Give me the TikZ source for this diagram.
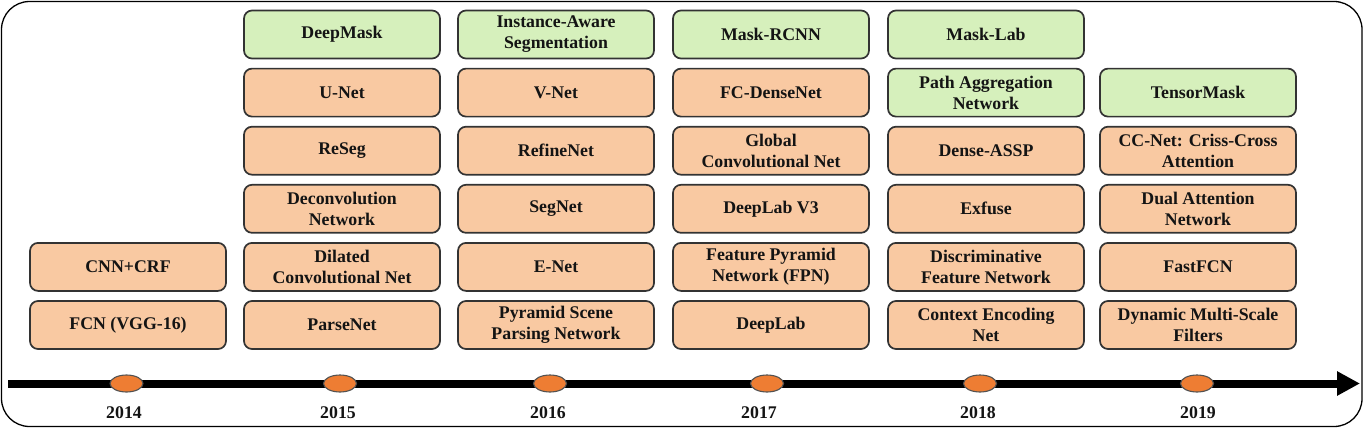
\documentclass[tikz,border=0pt]{standalone}
\usepackage{fontspec}
\setmainfont{Liberation Serif}
\usetikzlibrary{arrows.meta,shapes.geometric}
\definecolor{peach}{HTML}{F9C9A2}
\definecolor{leaf}{HTML}{D6F0BC}
\definecolor{pumpkin}{HTML}{EE7D33}
\definecolor{edge}{HTML}{333333}
\tikzset{
	model/.style={draw=edge, line width=1.7, fill=peach, rounded corners=8, minimum width=196, minimum height=48, inner sep=0, align=center, font=\fontsize{17.8}{21}\selectfont\bfseries, text=black!92},
	inst/.style={model, fill=leaf},
	yearmark/.style={ellipse, draw=edge!85, line width=1.1, fill=pumpkin, minimum width=33, minimum height=17, inner sep=0},
	yearlabel/.style={font=\fontsize{17.8}{21}\selectfont\bfseries, text=black!92}
}

\begin{document}
\begin{tikzpicture}[x=1pt, y=-1pt]
		%%%%% START %%%%%
		\useasboundingbox (0, 0) rectangle (1364, 428);
		\draw[line width=1.3, rounded corners=28] (1.5, 1.5) rectangle (1362, 426.5);
		
		% 2014
		\node[model] (cnncrf) at (128, 266.9) {CNN+CRF};
		\node[model] (fcnvgg) at (128, 325) {FCN (VGG-16)};
		
		% 2015
		\node[inst] (deepmask) at (342, 34.5) {DeepMask};
		\node[model] (unet) at (342, 92.6) {U-Net};
		\node[model] (reseg) at (342, 150.7) {ReSeg};
		\node[model] (deconv) at (342, 208.8) {Deconvolution\\Network};
		\node[model] (dilated) at (342, 266.9) {Dilated\\Convolutional Net};
		\node[model] (parsenet) at (342, 325) {ParseNet};
		
		% 2016
		\node[inst] (instaware) at (556, 34.5) {Instance-Aware\\Segmentation};
		\node[model] (vnet) at (556, 92.6) {V-Net};
		\node[model] (refinenet) at (556, 150.7) {RefineNet};
		\node[model] (segnet) at (556, 208.8) {SegNet};
		\node[model] (enet) at (556, 266.9) {E-Net};
		\node[model] (pspnet) at (556, 325) {Pyramid Scene\\Parsing Network};
		
		% 2017
		\node[inst] (maskrcnn) at (771, 34.5) {Mask-RCNN};
		\node[model] (fcdense) at (771, 92.6) {FC-DenseNet};
		\node[model] (gcn) at (771, 150.7) {Global\\Convolutional Net};
		\node[model] (deeplabthree) at (771, 208.8) {DeepLab V3};
		\node[model] (fpn) at (771, 266.9) {Feature Pyramid\\Network (FPN)};
		\node[model] (deeplab) at (771, 325) {DeepLab};
		
		% 2018
		\node[inst] (masklab) at (986, 34.5) {Mask-Lab};
		\node[inst] (panet) at (986, 92.6) {Path Aggregation\\Network};
		\node[model] (denseaspp) at (986, 150.7) {Dense-ASSP};
		\node[model] (exfuse) at (986, 208.8) {Exfuse};
		\node[model] (dfn) at (986, 266.9) {Discriminative\\Feature Network};
		\node[model] (encnet) at (986, 325) {Context Encoding\\Net};
		
		% 2019
		\node[inst] (tensormask) at (1198, 92.6) {TensorMask};
		\node[model] (ccnet) at (1198, 150.7) {CC-Net: Criss-Cross\\Attention};
		\node[model] (danet) at (1198, 208.8) {Dual Attention\\Network};
		\node[model] (fastfcn) at (1198, 266.9) {FastFCN};
		\node[model] (dmnet) at (1198, 325) {Dynamic Multi-Scale\\Filters};
		
		% timeline
		\coordinate (tlstart) at (8, 383.5);
		\coordinate (tlend) at (1360, 383.5);
		\draw[line width=8, -{Triangle[length=23, width=23]}] (tlstart) -- (tlend);
		
		\node[yearmark] (m2014) at (126.5, 383.5) {};
		\node[yearmark] (m2015) at (340, 383.5) {};
		\node[yearmark] (m2016) at (550, 383.5) {};
		\node[yearmark] (m2017) at (767, 383.5) {};
		\node[yearmark] (m2018) at (980, 383.5) {};
		\node[yearmark] (m2019) at (1197, 383.5) {};
		
		\node[yearlabel] (y2014) at (124, 413) {2014};
		\node[yearlabel] (y2015) at (338, 413) {2015};
		\node[yearlabel] (y2016) at (548, 413) {2016};
		\node[yearlabel] (y2017) at (759, 413) {2017};
		\node[yearlabel] (y2018) at (978, 413) {2018};
		\node[yearlabel] (y2019) at (1198, 413) {2019};
		
		%%%%% END %%%%%
	\end{tikzpicture}
\end{document}
